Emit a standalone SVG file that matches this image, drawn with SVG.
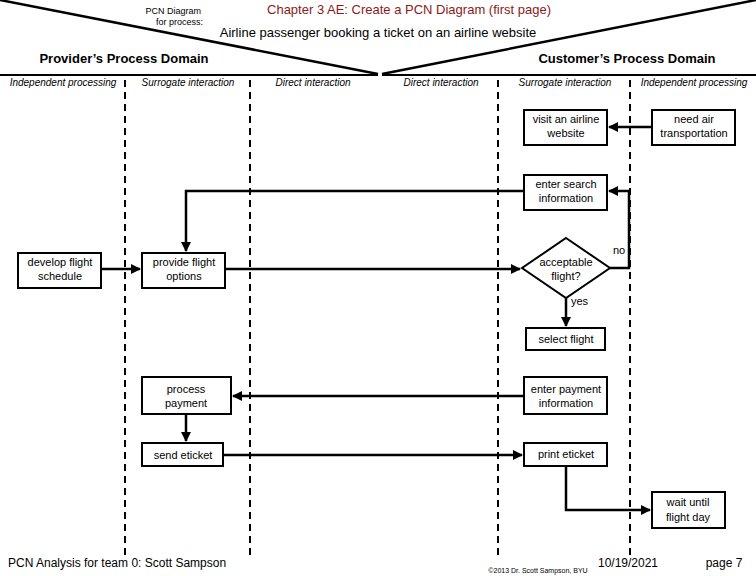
<svg xmlns="http://www.w3.org/2000/svg" width="756" height="576" viewBox="0 0 756 576">
<style>
text{font-family:"Liberation Sans",Arial,sans-serif;fill:#000}
.n rect,.n polygon{fill:#fff;stroke:#000;stroke-width:2}
.n text{font-size:11px;text-anchor:middle}
.c{fill:none;stroke:#000;stroke-width:2.5}
.lane{font-size:10px;font-style:italic}
.dash{stroke:#000;stroke-width:2;stroke-dasharray:7,5}
</style>
<defs><marker id="a" viewBox="0 0 10 10" refX="9" refY="5" markerWidth="4" markerHeight="4" orient="auto"><path d="M0,0L10,5L0,10z" fill="#000"/></marker></defs>
<g id="frame">
<line x1="0" y1="0" x2="378" y2="74" stroke="#000" stroke-width="2.5"/>
<line x1="756" y1="0" x2="382" y2="74" stroke="#000" stroke-width="2.5"/>
<line x1="0" y1="75" x2="378" y2="75" stroke="#000" stroke-width="2"/>
<line x1="382" y1="75" x2="756" y2="75" stroke="#000" stroke-width="2"/>
<line class="dash" x1="125" y1="80" x2="125" y2="556"/>
<line class="dash" x1="250" y1="80" x2="250" y2="556"/>
<line class="dash" x1="498" y1="80" x2="498" y2="556"/>
<line class="dash" x1="630" y1="80" x2="630" y2="556"/>
<text x="201" y="14" font-size="9" text-anchor="end">PCN Diagram</text>
<text x="203" y="25" font-size="9" text-anchor="end">for process:</text>
<text x="409" y="14" font-size="13" fill="#8b1a1a" style="fill:#8b1a1a" text-anchor="middle">Chapter 3 AE: Create a PCN Diagram (first page)</text>
<text x="378" y="37" font-size="13" text-anchor="middle">Airline passenger booking a ticket on an airline website</text>
<text x="124" y="63" font-size="13" font-weight="bold" text-anchor="middle">Provider’s Process Domain</text>
<text x="627" y="63" font-size="13" font-weight="bold" text-anchor="middle">Customer’s Process Domain</text>
<text class="lane" x="63" y="86" text-anchor="middle">Independent processing</text>
<text class="lane" x="188" y="86" text-anchor="middle">Surrogate interaction</text>
<text class="lane" x="313" y="86" text-anchor="middle">Direct interaction</text>
<text class="lane" x="441" y="86" text-anchor="middle">Direct interaction</text>
<text class="lane" x="565" y="86" text-anchor="middle">Surrogate interaction</text>
<text class="lane" x="694" y="86" text-anchor="middle">Independent processing</text>
<text x="8" y="567" font-size="12">PCN Analysis for team 0: Scott Sampson</text>
<text x="538" y="573" font-size="7" text-anchor="middle">©2013 Dr. Scott Sampson, BYU</text>
<text x="628" y="567" font-size="12" text-anchor="middle">10/19/2021</text>
<text x="724" y="567" font-size="12" text-anchor="middle">page 7</text>
</g>
<g id="connectors">
<path class="c" d="M652,127H609" marker-end="url(#a)"/>
<path class="c" d="M524,191H186V251" marker-end="url(#a)"/>
<path class="c" d="M101,269H140" marker-end="url(#a)"/>
<path class="c" d="M225,269H520" marker-end="url(#a)"/>
<path class="c" d="M610,268H629V191H609" marker-end="url(#a)"/>
<path class="c" d="M566,298V326" marker-end="url(#a)"/>
<path class="c" d="M524,396H233" marker-end="url(#a)"/>
<path class="c" d="M186,414V441" marker-end="url(#a)"/>
<path class="c" d="M223,455H522" marker-end="url(#a)"/>
<path class="c" d="M566,466V510H650" marker-end="url(#a)"/>
<text x="613" y="254" font-size="11">no</text>
<text x="571" y="305" font-size="11">yes</text>
</g>
<g id="visit" class="n"><rect x="524" y="110" width="83" height="35"/><text x="566" y="123">visit an airline</text><text x="566" y="137">website</text></g>
<g id="need" class="n"><rect x="652" y="110" width="83" height="35"/><text x="694" y="123">need air</text><text x="694" y="137">transportation</text></g>
<g id="search" class="n"><rect x="524" y="175" width="83" height="35"/><text x="566" y="188">enter search</text><text x="566" y="202">information</text></g>
<g id="develop" class="n"><rect x="18" y="253" width="83" height="35"/><text x="60" y="266">develop flight</text><text x="60" y="280">schedule</text></g>
<g id="provide" class="n"><rect x="142" y="253" width="83" height="35"/><text x="184" y="266">provide flight</text><text x="184" y="280">options</text></g>
<g id="acceptable" class="n"><polygon points="566,238 610,268 566,298 522,268"/><text x="566" y="266">acceptable</text><text x="566" y="280">flight?</text></g>
<g id="select" class="n"><rect x="526" y="328" width="79" height="22"/><text x="566" y="343">select flight</text></g>
<g id="payment" class="n"><rect x="524" y="377" width="83" height="37"/><text x="566" y="393">enter payment</text><text x="566" y="407">information</text></g>
<g id="process" class="n"><rect x="142" y="377" width="89" height="37"/><text x="186" y="393">process</text><text x="186" y="407">payment</text></g>
<g id="send" class="n"><rect x="142" y="443" width="81" height="23"/><text x="183" y="459">send eticket</text></g>
<g id="print" class="n"><rect x="524" y="443" width="83" height="23"/><text x="566" y="458">print eticket</text></g>
<g id="wait" class="n"><rect x="652" y="492" width="73" height="36"/><text x="688" y="506">wait until</text><text x="688" y="521">flight day</text></g>
</svg>
